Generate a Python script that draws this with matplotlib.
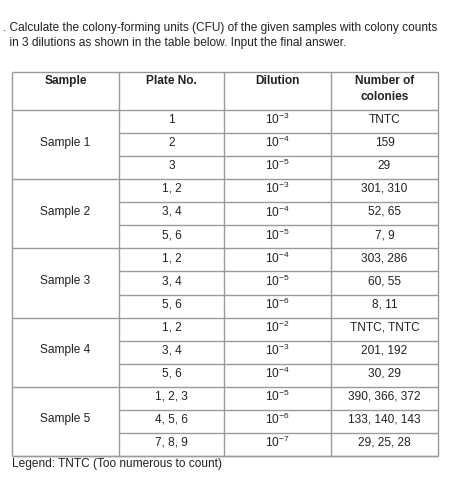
"""Render out.png: CFU question with the colony-count table."""

import matplotlib
matplotlib.use("Agg")
import matplotlib.pyplot as plt

plt.rcParams["font.family"] = ["Liberation Sans", "DejaVu Sans"]
plt.rcParams["mathtext.fontset"] = "custom"
plt.rcParams["mathtext.rm"] = "Liberation Sans"
plt.rcParams["mathtext.it"] = "Liberation Sans"

TITLE = [
    ". Calculate the colony-forming units (CFU) of the given samples with colony counts",
    "  in 3 dilutions as shown in the table below. Input the final answer.",
]
HEADERS = ["Sample", "Plate No.", "Dilution", "Number of\ncolonies"]
SAMPLES = ["Sample 1", "Sample 2", "Sample 3", "Sample 4", "Sample 5"]
PLATES = [
    ["1", "2", "3"],
    ["1, 2", "3, 4", "5, 6"],
    ["1, 2", "3, 4", "5, 6"],
    ["1, 2", "3, 4", "5, 6"],
    ["1, 2, 3", "4, 5, 6", "7, 8, 9"],
]
DILUTIONS = [
    [-3, -4, -5],
    [-3, -4, -5],
    [-4, -5, -6],
    [-2, -3, -4],
    [-5, -6, -7],
]
COUNTS = [
    ["TNTC", "159", "29"],
    ["301, 310", "52, 65", "7, 9"],
    ["303, 286", "60, 55", "8, 11"],
    ["TNTC, TNTC", "201, 192", "30, 29"],
    ["390, 366, 372", "133, 140, 143", "29, 25, 28"],
]
LEGEND = "Legend: TNTC (Too numerous to count)"

W, H = 474, 494
COLS = [12, 119, 224, 331, 438]
HEAD_TOP, HEAD_BOT, ROW_H = 72, 110, 23.07
LINE = "#9a9a9a"
TXT = "#222222"

fig = plt.figure(figsize=(W / 100, H / 100), dpi=100)
ax = fig.add_axes([0, 0, 1, 1])
ax.set_xlim(0, W)
ax.set_ylim(H, 0)
ax.axis("off")

for i, line in enumerate(TITLE):
    ax.text(3, 28 + i * 15, line, fontsize=8.6, color=TXT, va="center")

n_rows = sum(len(p) for p in PLATES)
bottom = HEAD_BOT + n_rows * ROW_H

# outer frame and column lines
ax.hlines([HEAD_TOP, HEAD_BOT, bottom], COLS[0], COLS[-1], color=LINE, lw=1)
ax.vlines(COLS, HEAD_TOP, bottom, color=LINE, lw=1)

for c, h in enumerate(HEADERS):
    cx = (COLS[c] + COLS[c + 1]) / 2
    ax.text(cx, HEAD_TOP + 3, h, fontsize=8.6, fontweight="bold", color=TXT,
            ha="center", va="top", linespacing=1.5)

row = 0
for s, name in enumerate(SAMPLES):
    top = HEAD_BOT + row * ROW_H
    k = len(PLATES[s])
    ax.text((COLS[0] + COLS[1]) / 2, top + k * ROW_H / 2 - 2, name, fontsize=8.6,
            color=TXT, ha="center", va="center")
    for j in range(k):
        y0 = top + j * ROW_H
        if j > 0:
            ax.hlines(y0, COLS[1], COLS[-1], color=LINE, lw=1)
        yc = y0 + ROW_H * 0.42
        vals = [PLATES[s][j], f"10$^{{{DILUTIONS[s][j]}}}$", COUNTS[s][j]]
        for c, v in enumerate(vals, start=1):
            ax.text((COLS[c] + COLS[c + 1]) / 2, yc, v, fontsize=8.6, color=TXT,
                    ha="center", va="center")
    row += k
    ax.hlines(HEAD_BOT + row * ROW_H, COLS[0], COLS[-1], color=LINE, lw=1)

ax.text(COLS[0], bottom + 8, LEGEND, fontsize=8.6, color=TXT, va="center")

fig.savefig("out.png", dpi=100)
